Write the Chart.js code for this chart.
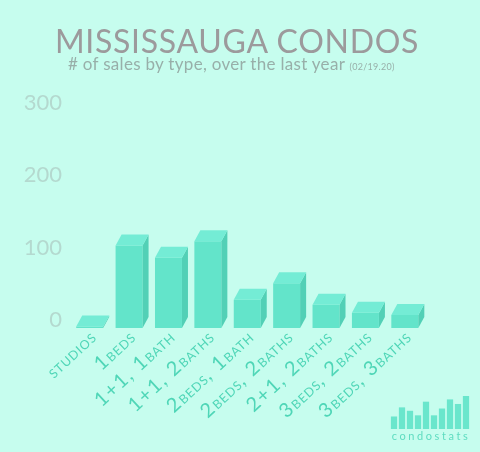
<!DOCTYPE html>
<html>
<head>
<meta charset="utf-8">
<script src="https://cdn.jsdelivr.net/npm/chart.js@4.4.1/dist/chart.umd.min.js"></script>
<style>
  html, body { margin: 0; padding: 0; background: #c6fdee; }
  #wrap { position: relative; width: 480px; height: 452px; overflow: hidden; }
  #mainBox { position: absolute; left: 0; top: 0; width: 480px; height: 452px; }
  #logoBox { position: absolute; left: 390px; top: 396px; width: 80px; height: 33px; }
  .title { position: absolute; left: 0; top: 21px; width: 474px; text-align: center;
           font-family: Lato, sans-serif; font-size: 32px; color: #9c9a9c; letter-spacing: 0.7px; }
  .subtitle { position: absolute; left: 68px; top: 53px; white-space: nowrap;
              font-family: Lato, sans-serif; font-size: 17px; color: #98afa9; letter-spacing: 0.3px; }
  .subtitle small { font-size: 9px; }
  .brand { position: absolute; left: 391px; top: 429px; width: 80px; text-align: center;
           font-family: Lato, sans-serif; font-size: 11px; color: #5edcc0; letter-spacing: 2.6px; }
</style>
</head>
<body>
<div id="wrap">
  <div id="mainBox"><canvas id="condoChart"></canvas></div>
  <div class="title">MISSISSAUGA CONDOS</div>
  <div class="subtitle"># of sales by type, over the last year <small>(02/19.20)</small></div>
  <div id="logoBox"><canvas id="logoChart"></canvas></div>
  <div class="brand">condostats</div>
</div>
<script>
const categories = ['STUDIOS', '1BEDS', '1+1, 1BATH', '1+1, 2BATHS', '2BEDS, 1BATH',
                    '2BEDS, 2BATHS', '2+1, 2BATHS', '3BEDS, 2BATHS', '3BEDS, 3BATHS'];
const sales = [2, 114, 97, 120, 39, 62, 32, 21, 18];
const yTicks = [0, 100, 200, 300];

const logoBars = [11, 19, 16, 12, 24, 12, 18, 26, 22, 29];

const FRONT = '#63e4ca';
const SIDE = '#52d0b6';
const TOP = '#74ecd5';
const DX = 6, DY = 11;

// side + top faces for the fake 3d boxes
const cubeFaces = {
    id: 'cubeFaces',
    afterDatasetsDraw(chart) {
        const ctx = chart.ctx;
        chart.getDatasetMeta(0).data.forEach(bar => {
            const {x, y, width, base} = bar.getProps(['x', 'y', 'width', 'base'], true);
            const l = x - width / 2, r = x + width / 2;
            ctx.fillStyle = SIDE;
            ctx.beginPath();
            ctx.moveTo(r, base);
            ctx.lineTo(r + DX, base - DY);
            ctx.lineTo(r + DX, y - DY);
            ctx.lineTo(r, y);
            ctx.closePath();
            ctx.fill();
            ctx.fillStyle = TOP;
            ctx.beginPath();
            ctx.moveTo(l, y);
            ctx.lineTo(l + DX, y - DY);
            ctx.lineTo(r + DX, y - DY);
            ctx.lineTo(r, y);
            ctx.closePath();
            ctx.fill();
        });
    }
};

// rotated labels, digits big and letters small
const splitLabels = {
    id: 'splitLabels',
    afterDraw(chart) {
        const xs = chart.scales.x;
        const ctx = chart.ctx;
        const y0 = chart.chartArea.bottom + 1;
        ctx.save();
        ctx.fillStyle = '#4fd6b7';
        ctx.textBaseline = 'alphabetic';
        categories.forEach((label, i) => {
            const px = xs.getPixelForValue(i);
            const parts = label.match(/[A-Z]+|[^A-Z]+/g);
            ctx.save();
            ctx.translate(px - 1, y0);
            ctx.rotate(-Math.PI / 4.2);
            let cursor = 0;
            for (let k = parts.length - 1; k >= 0; k--) {
                const p = parts[k];
                const small = /[A-Z]/.test(p);
                ctx.font = small ? '12.5px Lato' : '20px Lato';
                ctx.letterSpacing = small ? '0.9px' : '1.6px';
                cursor -= ctx.measureText(p).width;
                ctx.fillText(p, cursor, 13);
            }
            ctx.restore();
        });
        ctx.restore();
    }
};

new Chart(document.getElementById('condoChart').getContext('2d'), {
    type: 'bar',
    data: {
        labels: categories,
        datasets: [{
            data: sales,
            backgroundColor: FRONT,
            borderWidth: 0,
            barPercentage: 0.685,
            categoryPercentage: 1
        }]
    },
    options: {
        responsive: true,
        maintainAspectRatio: false,
        animation: false,
        layout: {padding: {top: 111, right: 55.5, bottom: 124, left: 0}},
        plugins: {legend: {display: false}, tooltip: {enabled: false}},
        scales: {
            x: {
                grid: {display: false, drawTicks: false},
                border: {display: false},
                ticks: {display: false}
            },
            y: {
                min: 0,
                max: 300,
                afterBuildTicks: scale => { scale.ticks = yTicks.map(v => ({value: v})); },
                afterFit: scale => { scale.width = 70; },
                grid: {display: false, drawTicks: false},
                border: {display: false},
                ticks: {
                    color: '#b4d9cf',
                    padding: 8,
                    labelOffset: -8,
                    font: {family: 'Lato', size: 22}
                }
            }
        }
    },
    plugins: [cubeFaces, splitLabels]
});

new Chart(document.getElementById('logoChart').getContext('2d'), {
    type: 'bar',
    data: {
        labels: logoBars.map((v, i) => i),
        datasets: [{data: logoBars, backgroundColor: '#6ae6cc', borderWidth: 0,
                    barPercentage: 0.78, categoryPercentage: 1}]
    },
    options: {
        responsive: true,
        maintainAspectRatio: false,
        animation: false,
        plugins: {legend: {display: false}, tooltip: {enabled: false}},
        scales: {
            x: {display: false},
            y: {display: false, min: 0, max: 29}
        }
    }
});
</script>
</body>
</html>
